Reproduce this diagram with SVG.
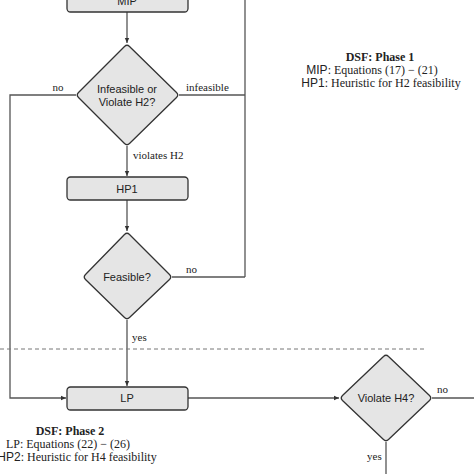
<svg xmlns="http://www.w3.org/2000/svg" width="474" height="474" viewBox="0 0 474 474">
<style>
.box{fill:#e5e5e5;stroke:#333;stroke-width:1.3}
.ln{fill:none;stroke:#555;stroke-width:1.3}
.sans{font-family:"Liberation Sans",Arial,sans-serif;font-size:11px;fill:#222}
.ser{font-family:"Liberation Serif","Times New Roman",serif;font-size:11px;fill:#222}
.leg{font-family:"Liberation Serif","Times New Roman",serif;font-size:12px;fill:#222}
.legs{font-family:"Liberation Sans",Arial,sans-serif;font-size:12px}
.bold{font-weight:bold}
</style>
<defs>
<marker id="ah" markerWidth="6" markerHeight="6" refX="5" refY="3" orient="auto" markerUnits="userSpaceOnUse">
<path d="M0,0.8 L5,3 L0,5.2 Z" fill="#333"/>
</marker>
</defs>
<rect width="474" height="474" fill="#fff"/>
<g id="connectors">
<line class="ln" x1="127" y1="12" x2="127" y2="43" marker-end="url(#ah)"/>
<polyline class="ln" points="76,95 10,95 10,398 66,398" marker-end="url(#ah)"/>
<polyline class="ln" points="179,95 245,95"/>
<line class="ln" x1="245" y1="0" x2="245" y2="277"/>
<line class="ln" x1="127" y1="146" x2="127" y2="176" marker-end="url(#ah)"/>
<line class="ln" x1="127" y1="200" x2="127" y2="231" marker-end="url(#ah)"/>
<polyline class="ln" points="172,277 245,277"/>
<line class="ln" x1="127" y1="320" x2="127" y2="386" marker-end="url(#ah)"/>
<line class="ln" x1="188" y1="398" x2="339" y2="398" marker-end="url(#ah)"/>
<line class="ln" x1="432" y1="398" x2="474" y2="398"/>
<line class="ln" x1="386" y1="442" x2="386" y2="474"/>
<line x1="0" y1="349" x2="425" y2="349" stroke="#777" stroke-width="1" stroke-dasharray="4,3"/>
<text class="ser" x="58" y="91" text-anchor="middle">no</text>
<text class="ser" x="186" y="91">infeasible</text>
<text class="ser" x="133" y="159">violates H2</text>
<text class="ser" x="186" y="273">no</text>
<text class="ser" x="132" y="341">yes</text>
<text class="ser" x="437" y="393">no</text>
<text class="ser" x="367" y="460">yes</text>
</g>
<g id="mip">
<rect class="box" x="67" y="-12" width="121" height="24" rx="3.5"/>
<text class="sans" x="127" y="5" text-anchor="middle">MIP</text>
</g>
<g id="d1">
<path class="box" d="M124.5,46.5 Q127,44 129.5,46.5 L176.5,92.5 Q179,95 176.5,97.5 L129.5,143.5 Q127,146 124.5,143.5 L78.5,97.5 Q76,95 78.5,92.5 Z"/>
<text class="sans" x="127" y="93" text-anchor="middle">Infeasible or</text>
<text class="sans" x="127" y="106" text-anchor="middle">Violate H2?</text>
</g>
<g id="hp1">
<rect class="box" x="67" y="177" width="121" height="23" rx="3.5"/>
<text class="sans" x="127" y="193" text-anchor="middle">HP1</text>
</g>
<g id="d2">
<path class="box" d="M124.5,234.5 Q127,232 129.5,234.5 L169.5,274.5 Q172,277 169.5,279.5 L129.5,317.5 Q127,320 124.5,317.5 L85.5,279.5 Q83,277 85.5,274.5 Z"/>
<text class="sans" x="127" y="281" text-anchor="middle">Feasible?</text>
</g>
<g id="lp">
<rect class="box" x="67" y="387" width="121" height="23" rx="3.5"/>
<text class="sans" x="127" y="402" text-anchor="middle">LP</text>
</g>
<g id="d3">
<path class="box" d="M383.5,356.5 Q386,354 388.5,356.5 L429.5,395.5 Q432,398 429.5,400.5 L388.5,439.5 Q386,442 383.5,439.5 L342.5,400.5 Q340,398 342.5,395.5 Z"/>
<text class="sans" x="386" y="402" text-anchor="middle">Violate H4?</text>
</g>
<g id="legend1">
<text class="leg bold" x="380" y="61" text-anchor="middle">DSF: Phase 1</text>
<text class="leg" x="372" y="74" text-anchor="middle"><tspan class="legs">MIP</tspan>: Equations (17) − (21)</text>
<text class="leg" x="381" y="87" text-anchor="middle"><tspan class="legs">HP1</tspan>: Heuristic for H2 feasibility</text>
</g>
<g id="legend2">
<text class="leg bold" x="70" y="435" text-anchor="middle">DSF: Phase 2</text>
<text class="leg" x="68" y="448" text-anchor="middle">LP: Equations (22) − (26)</text>
<text class="leg" x="77" y="461" text-anchor="middle"><tspan class="legs">HP2</tspan>: Heuristic for H4 feasibility</text>
</g>
</svg>
